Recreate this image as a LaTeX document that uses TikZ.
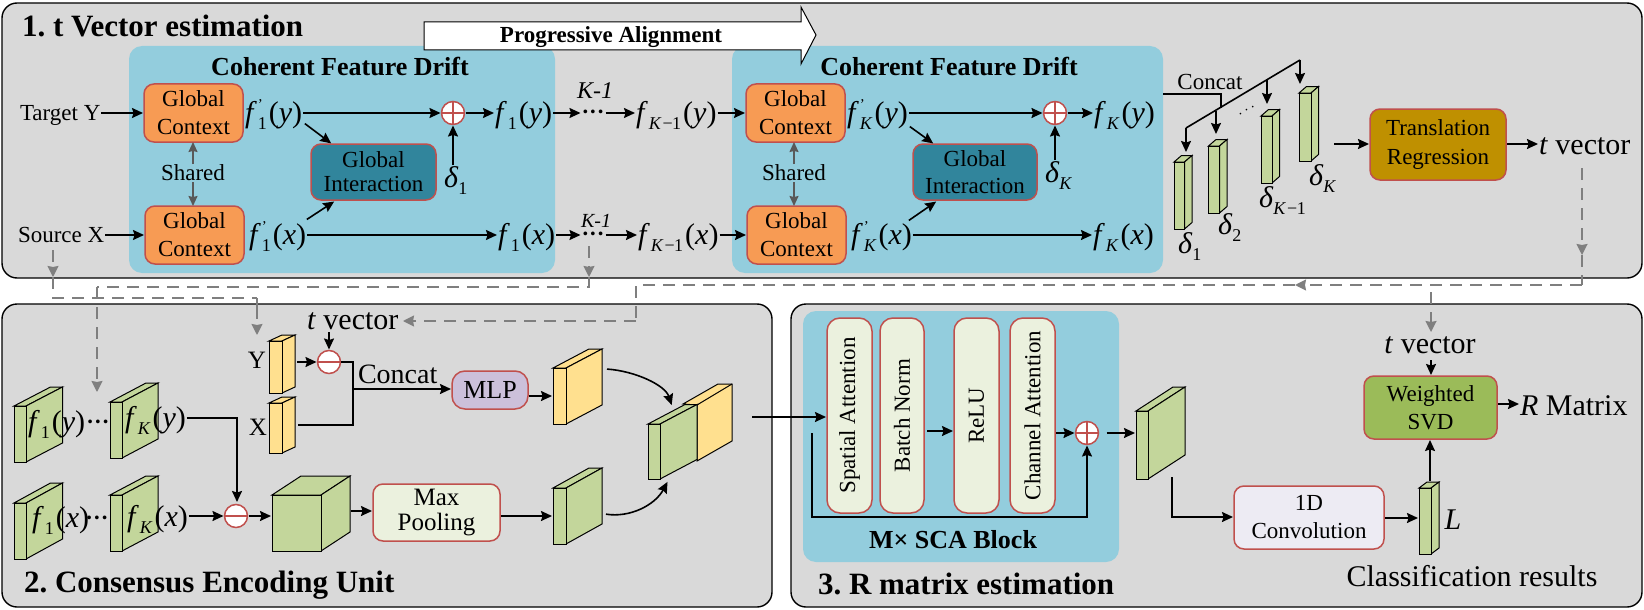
\documentclass[tikz,border=0pt]{standalone}
\usepackage{fontspec}
\setmainfont{Liberation Serif}
\usetikzlibrary{arrows.meta,fit,calc}
\definecolor{pan}{HTML}{D9D9D9}
\definecolor{blu}{HTML}{93CDDD}
\definecolor{ora}{HTML}{F79B54}
\definecolor{teal}{HTML}{31859C}
\definecolor{gold}{HTML}{BF9000}
\definecolor{red1}{HTML}{C0504D}
\definecolor{cre}{HTML}{EBF1DE}
\definecolor{lil}{HTML}{CCC0DA}
\definecolor{lav}{HTML}{EDEBF3}
\definecolor{oli}{HTML}{9BBB59}
\definecolor{grn}{HTML}{C3D69B}
\definecolor{yel}{HTML}{FFE08F}
\definecolor{gra}{HTML}{7F7F7F}
\definecolor{dgr}{HTML}{595959}
\newcommand\ft[2]{\fontsize{#1}{#2}\selectfont}
\newcommand\fl[3]{\textit{f}\kern1pt\rlap{\raisebox{13pt}{\ft{15}{15}#1}}\raisebox{-7pt}{\ft{18}{18}#2}\kern2pt(\textit{#3})}
\newcommand\dl[1]{\textit{δ}\raisebox{-7pt}{\ft{18}{18}#1}}
\newcommand\Km{\textit{K}\kern1pt−\kern-.5pt1}
\def\bxi#1#2#3,#4;#5,#6;#7{%
  \pgfmathsetlengthmacro\bw{#5-#3}\pgfmathsetlengthmacro\bh{#6-#4}%
  \node[#2,minimum width=\bw,minimum height=\bh] (#1) at ({(#3+#5)/2},{(#4+#6)/2}) {#7};}
\newcommand\bx[5]{\bxi{#1}{#2}#3;#4;{#5}}
\newcommand\cub[8]{%
  \filldraw[cubeline,fill=#8] (#2,#3)--(#2+#6,#3-#7)--(#2+#4+#6,#3-#7)--(#2+#4,#3)--cycle;
  \filldraw[cubeline,fill=#8] (#2+#4,#3)--(#2+#4+#6,#3-#7)--(#2+#4+#6,#3+#5-#7)--(#2+#4,#3+#5)--cycle;
  \node[cubeline,draw,fill=#8,inner sep=0,outer sep=0,fit={(#2,#3)(#2+#4,#3+#5)}] (#1) {};}
\tikzset{
  tip/.tip={Stealth[length=11pt,width=10pt,inset=1.5pt]},
  cubeline/.style={draw=black,line width=1pt},
  arr/.style={line width=1.6pt,-{tip},shorten <=1pt,shorten >=1pt},
  ln/.style={line width=1.6pt},
  gd/.style={line width=1.7pt,draw=gra,dash pattern=on 12pt off 8pt},
  gtip/.style={gd,-{Stealth[length=11pt,width=11pt,inset=1pt,fill=gra]}},
  shr/.style={line width=1.5pt,draw=dgr,-{Stealth[length=10pt,width=9pt,inset=1pt]}},
  panel/.style={draw=black,line width=1.4pt,fill=pan,rounded corners=15pt,inner sep=0,outer sep=0},
  bluebox/.style={fill=blu,rounded corners=13pt,inner sep=0,outer sep=0},
  op/.style={draw=red1,line width=1.5pt,rounded corners=10pt,inner sep=0,outer sep=0,align=center,font=\ft{23}{28}},
  txt/.style={inner sep=0,outer sep=0,font=\ft{23}{28},anchor=base},
  big/.style={inner sep=0,outer sep=0,font=\ft{30}{34},anchor=base west},
  ttl/.style={inner sep=0,outer sep=0,font=\ft{31}{34}\bfseries,anchor=base west},
  sub/.style={inner sep=0,outer sep=0,font=\ft{26}{30}\bfseries,anchor=base},
  pm/.style={circle,draw=red1,line width=1.5pt,fill=white,minimum size=23pt,inner sep=0,outer sep=0},
  plusop/.style={pm,path picture={\draw[red1,line width=1.3pt] (path picture bounding box.north)--(path picture bounding box.south) (path picture bounding box.west)--(path picture bounding box.east);}},
  minusop/.style={pm,path picture={\draw[red1,line width=1.5pt] (path picture bounding box.west)--(path picture bounding box.east);}},
}
\begin{document}
\frenchspacing
\begin{tikzpicture}[x=1pt,y=-1pt]
\useasboundingbox (0,0) rectangle (1644,610);
% panels
\bx{P1}{panel}{2,3}{1642,278}{}
\bx{P2}{panel}{2,304}{772,607}{}
\bx{P3}{panel}{791,304}{1642,607}{}
\node[ttl] (t1) at (22,37) {1. t Vector estimation};
\node[ttl] (t2) at (24,592) {2. Consensus Encoding Unit};
\node[ttl] (t3) at (818,594) {3. R matrix estimation};
% blue regions
\bx{B1}{bluebox}{129,46}{555,273}{}
\bx{B2}{bluebox}{732,46}{1163,273}{}
\bx{B3}{bluebox}{803,311}{1119,562}{}
% progressive arrow
\draw[line width=1pt,fill=white] (424,22)--(801,22)--(801,7)--(816,35)--(801,64)--(801,50)--(424,50)--cycle;
\node[sub,font=\ft{23}{26}\bfseries] (pa) at (611,43) {Progressive Alignment};
\node[sub] (cf1) at (340,75) {Coherent Feature Drift};
\node[sub] (cf2) at (949,75) {Coherent Feature Drift};
\node[sub] (sca) at (953,548) {M× SCA Block};
\coordinate (rY) at (0,113);
\coordinate (rX) at (0,235);
% row 1 block 1
\node[txt,anchor=base west] (ty) at (20,120) {Target Y};
\node[txt,anchor=base west] (sx) at (18,242) {Source X};
\bx{g1y}{op,fill=ora}{144,84}{243,142}{Global\\Context}
\bx{g1x}{op,fill=ora}{145,206}{244,264}{Global\\Context}
\bx{i1}{op,fill=teal,font=\ft{23}{24}}{311,144}{436,200}{Global\\Interaction}
\node[txt] (s1) at (193,180) {Shared};
\node[big] (fp1y) at (245,122) {\fl{'}{1}{y}};
\node[big] (fp1x) at (249,244) {\fl{'}{1}{x}};
\node[plusop] (p1) at (453,113) {};
\node[big] (f1y) at (495,122) {\fl{}{1}{y}};
\node[big] (f1x) at (498,244) {\fl{}{1}{x}};
\node[big] (d1) at (444,187) {\dl{1}};
\draw[arr] (ty.east |- rY) -- (g1y.west |- rY);
\draw[arr] (sx.east |- rX) -- (g1x.west |- rX);
\draw[arr] (fp1y.east |- rY) -- (p1.west);
\draw[arr] (p1.east) -- (f1y.west |- rY);
\draw[arr] (fp1x.east |- rX) -- (f1x.west |- rX);
\draw[arr] (d1.north -| p1) -- (p1.south);
\coordinate (a1) at (304,123); \coordinate (a2) at (332,144);
\coordinate (a3) at (306,220); \coordinate (a4) at (335,201);
\draw[arr] (a1) -- (a2);
\draw[arr] (a3) -- (a4);
\draw[shr] (s1.north) -- (s1.north |- g1y.south);
\draw[shr] (s1.south) ++(0,2) -- (s1.south |- g1x.north);
% between
\node[txt,font=\ft{23}{26}\bfseries] (dy) at (593,119) {···};
\node[txt,font=\ft{23}{26}\bfseries] (dx) at (593,241) {···};
\node[txt,font=\ft{24}{26}\itshape] (ky) at (595,99) {K-1};
\node[txt,font=\ft{20}{26}\itshape] (kx) at (596,227) {K-1};
\node[big] (fmy) at (636,122) {\fl{}{\Km}{y}};
\node[big] (fmx) at (638,244) {\fl{}{\Km}{x}};
\draw[arr] (f1y.east |- rY) -- (dy.west |- rY);
\draw[arr] (f1x.east |- rX) -- (dx.west |- rX);
\draw[arr] (dy.east |- rY) -- (fmy.west |- rY);
\draw[arr] (dx.east |- rX) -- (fmx.west |- rX);
% block 2
\bx{g2y}{op,fill=ora}{746,84}{845,142}{Global\\Context}
\bx{g2x}{op,fill=ora}{747,206}{846,264}{Global\\Context}
\bx{i2}{op,fill=teal,font=\ft{23}{27}}{913,144}{1037,200}{Global\\Interaction}
\node[txt] (s2) at (794,180) {Shared};
\node[big] (fpky) at (847,122) {\fl{'}{\textit{K}}{y}};
\node[big] (fpkx) at (851,244) {\fl{'}{\textit{K}}{x}};
\node[plusop] (p2) at (1055,113) {};
\node[big] (fky) at (1094,122) {\fl{}{\textit{K}}{y}};
\node[big] (fkx) at (1093,244) {\fl{}{\textit{K}}{x}};
\node[big] (dk) at (1045,182) {\dl{\textit{K}}};
\draw[arr] (fmy.east |- rY) -- (g2y.west |- rY);
\draw[arr] (fmx.east |- rX) -- (g2x.west |- rX);
\draw[arr] (fpky.east |- rY) -- (p2.west);
\draw[arr] (p2.east) -- (fky.west |- rY);
\draw[arr] (fpkx.east |- rX) -- (fkx.west |- rX);
\draw[arr] (dk.north -| p2) -- (p2.south);
\coordinate (a5) at (909,126); \coordinate (a6) at (934,144);
\coordinate (a7) at (908,221); \coordinate (a8) at (937,201);
\draw[arr] (a5) -- (a6);
\draw[arr] (a7) -- (a8);
\draw[shr] (s2.north) -- (s2.north |- g2y.south);
\draw[shr] (s2.south) ++(0,2) -- (s2.south |- g2x.north);
% delta bars
\cub{b1}{1174}{162}{10.5}{67}{7.5}{6.5}{grn}
\cub{b2}{1208.5}{146}{11}{67}{7.5}{6.5}{grn}
\cub{bk1}{1261}{116}{11}{67}{7.5}{6.5}{grn}
\cub{bk}{1299}{93}{12}{68}{7.5}{6.5}{grn}
\node[big] (db1) at (1178,253) {\dl{1}};
\node[big] (db2) at (1218,234) {\dl{2}};
\node[big] (dbk1) at (1259,207) {\dl{\Km}};
\node[big] (dbk) at (1309,185) {\dl{\textit{K}}};
\node[txt] (cc) at (1210,89) {Concat};
\coordinate (dA) at (1186,128); \coordinate (dB) at (1300,60);
\coordinate (dC) at (1221,94); \coordinate (dD) at (1221,108);
\coordinate (dE) at (1267,80); \coordinate (dF) at (1216,111);
\draw[ln] (dA) -- (dB);
\draw[ln] (B2.east |- dC) -- (dC) -- (dD);
\coordinate (e1) at (1186,153); \coordinate (e2) at (1216,135);
\coordinate (e3) at (1267,105); \coordinate (e4) at (1300,85);
\draw[arr,shorten <=0pt] (dA) -- (e1);
\draw[arr,shorten <=0pt] (dF) -- (e2);
\draw[arr,shorten <=0pt] (dE) -- (e3);
\draw[arr,shorten <=0pt] (dB) -- (e4);
\node[txt,rotate=30,font=\ft{14}{14}] (bd) at (1247,111) {. . .};
\bx{tr}{op,fill=gold,font=\ft{23}{29}}{1370,109}{1506,180}{Translation\\Regression}
\node[big] (tv) at (1539,154) {\textit{t} vector};
\coordinate (q1) at (1333,144);
\draw[arr] (q1) -- (tr.west |- q1);
\draw[arr] (tr.east |- q1) -- (tv.west |- q1);
% panel 2 cuboids
\cub{c1y}{14}{406}{12}{56}{36.5}{19}{grn}
\cub{cky}{110}{402}{12}{56}{36}{19}{grn}
\cub{c1x}{14}{503}{12}{56}{36.5}{20}{grn}
\cub{ckx}{110}{495}{12}{56}{36}{19}{grn}
\node[big] (l1y) at (28,431) {\fl{}{1}{y}};
\node[big] (lky) at (125,427) {\fl{}{\textit{K}}{y}};
\node[big] (l1x) at (32,527) {\fl{}{1}{x}};
\node[big] (lkx) at (127,526) {\fl{}{\textit{K}}{x}};
\node[txt,font=\ft{23}{26}\bfseries] (u1) at (98,429) {···};
\node[txt,font=\ft{23}{26}\bfseries] (u2) at (97,525) {···};
\node[minusop] (m1) at (236,516) {};
\draw[arr] (lky.east |- 0,418) -- (237,418) -- (237,503);
\draw[arr] (lkx.east |- m1) -- (m1.west);
\cub{cube}{272}{495}{49}{56}{29}{19}{grn}
\draw[arr] (m1.east) -- (cube.west |- m1);
\bx{mp}{op,fill=cre,font=\ft{25}{25}}{373,484}{500,541}{Max\\Pooling}
\coordinate (h1) at (350,511);
\draw[arr] (h1) -- (mp.west |- h1);
\cub{go}{553}{488}{13}{56}{36}{20}{grn}
\draw[arr] (mp.east |- go) -- (go.west);
\cub{yo}{553}{368}{13}{56}{36}{19}{yel}
\bx{mlp}{op,fill=lil,font=\ft{26}{26},rounded corners=13pt}{452,371}{528,409}{MLP}
\draw[arr] (mlp.east |- yo) -- (yo.west);
\cub{by}{269}{341}{13}{52}{13}{6}{yel}
\cub{bx}{269}{403}{13}{50}{13}{6}{yel}
\node[txt,font=\ft{25}{25}] (ly) at (257,368) {Y};
\node[txt,font=\ft{25}{25}] (lx) at (258,435) {X};
\node[minusop] (m2) at (329,362) {};
\node[big] (tv2) at (307,329) {\textit{t} vector};
\coordinate (k1) at (329,331);
\draw[arr] (k1) -- (m2.north);
\coordinate (n1) at (353,362); \coordinate (n2) at (353,425); \coordinate (n3) at (298,425); \coordinate (n4) at (353,389);
\draw[arr] (by.east |- m2) ++(14,0) -- (m2.west);
\draw[ln] (m2.east) -- (n1) -- (n2) -- (n3);
\draw[arr] (n4) -- (mlp.west |- n4);
\node[txt,font=\ft{28}{28},anchor=base west] (cc2) at (358,383) {Concat};
% concat cuboid
\filldraw[cubeline,fill=yel] (683,404)--(718,384)--(732,384)--(732,441)--(697,461)--(697,405)--cycle;
\draw[cubeline] (697,405)--(732,384);
\cub{cg}{648}{424}{12}{55}{37}{19.5}{grn}
\coordinate (v1) at (606,369); \coordinate (v2) at (672,406);
\coordinate (v3) at (605,514); \coordinate (v4) at (668,481);
\draw[arr] (v1) .. controls (635,371) and (665,385) .. (v2);
\draw[arr] (v3) .. controls (630,518) and (655,505) .. (v4);
% panel 3
\bx{sa}{op,fill=cre,rounded corners=13pt}{827,318}{872,513}{\rotatebox{90}{Spatial Attention}}
\bx{bn}{op,fill=cre,rounded corners=13pt}{880,318}{924,513}{\rotatebox{90}{Batch Norm}}
\bx{re}{op,fill=cre,rounded corners=13pt}{954,318}{999,513}{\rotatebox{90}{ReLU}}
\bx{ca}{op,fill=cre,rounded corners=13pt}{1010,318}{1055,513}{\rotatebox{90}{Channel Attention}}
\coordinate (w0) at (751,417);
\draw[arr] (w0) -- (sa.west |- w0);
\coordinate (w1) at (0,431);
\draw[arr] (bn.east |- w1) ++(2,0) -- (re.west |- w1);
\node[plusop] (p3) at (1087,433) {};
\draw[arr] (ca.east |- p3) -- (p3.west);
\coordinate (w2) at (812,432); \coordinate (w3) at (812,517); \coordinate (w4) at (1087,517);
\draw[arr] (w2) -- (w3) -- (w4) -- (p3.south);
\cub{co}{1136}{411}{12}{68}{37}{24}{grn}
\draw[arr] (p3.east) ++(7,0) -- (co.west |- p3);
\bx{cv}{op,fill=lav}{1234,486}{1384,549}{1D\\Convolution}
\coordinate (w5) at (1172,476); \coordinate (w6) at (1172,517);
\draw[arr] (w5) -- (w6) -- (cv.west |- w6);
\cub{bl}{1419}{488}{12}{66}{8}{6}{grn}
\coordinate (w7) at (0,518);
\draw[arr] (cv.east |- w7) -- (bl.west |- w7);
\node[big,anchor=base] (lL) at (1453,529) {\textit{L}};
\bx{sv}{op,fill=oli}{1364,376}{1497,439}{Weighted\\SVD}
\coordinate (w8) at (1430,482);
\draw[arr] (w8) -- (w8 |- sv.south);
\node[big,anchor=base] (tv3) at (1430,353) {\textit{t} vector};
\coordinate (w9) at (1431,359);
\draw[arr] (w9) -- (w9 |- sv.north);
\node[big] (rm) at (1520,415) {\textit{R} Matrix};
\coordinate (w10) at (0,404);
\draw[arr] (sv.east |- w10) -- (rm.west |- w10);
\node[big,anchor=base] (cr) at (1472,586) {Classification results};
% dashed links
\coordinate (ga1) at (53,250); \coordinate (ga2) at (53,277); \coordinate (ga3) at (53,298);
\coordinate (ga4) at (257,298); \coordinate (ga5) at (257,335);
\draw[gtip] (ga1) -- (ga2);
\draw[gd] (ga2) -- (ga3) -- (ga4);
\draw[gtip] (257,307) -- (ga5);
\draw[gd] (ga4) -- (257,307);
\coordinate (gb1) at (589,246); \coordinate (gb2) at (589,277); \coordinate (gb3) at (589,287);
\coordinate (gb4) at (97,287); \coordinate (gb5) at (97,392);
\draw[gtip] (gb1) -- (gb2);
\draw[gd] (gb2) -- (gb3) -- (gb4);
\draw[gtip] (gb4) -- (gb5);
\coordinate (gc1) at (1582,168); \coordinate (gc2) at (1582,255); \coordinate (gc3) at (1582,285);
\coordinate (gc4) at (1295,285); \coordinate (gc5) at (636,285); \coordinate (gc6) at (636,321); \coordinate (gc7) at (403,321);
\coordinate (gc8) at (1431,292); \coordinate (gc9) at (1431,332);
\draw[gtip] (gc1) -- (gc2);
\draw[gd] (gc2) -- (gc3);
\draw[gtip] (gc3) -- (gc4);
\draw[gd] (gc4) -- (gc5) -- (gc6);
\draw[gtip] (gc6) -- (gc7);
\draw[gtip] (gc8) -- (gc9);
\end{tikzpicture}
\end{document}
